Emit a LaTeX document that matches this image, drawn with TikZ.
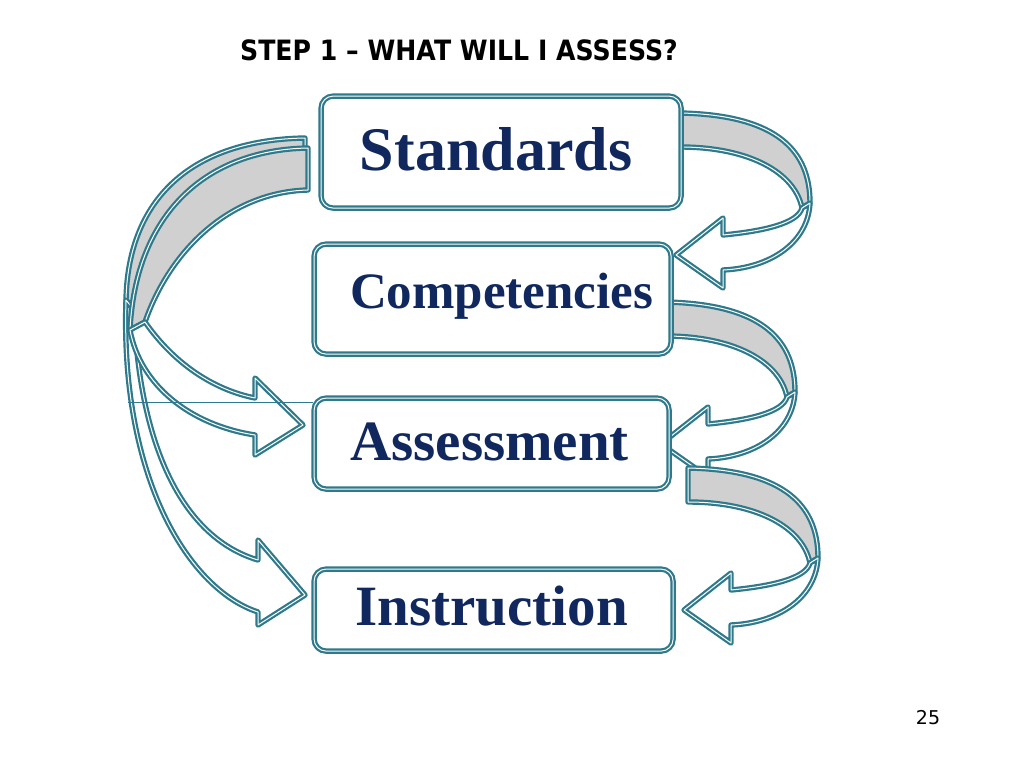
\documentclass[tikz,border=0pt]{standalone}
\usepackage{fontspec}
\setmainfont{Liberation Serif}
\newfontfamily\titlefont{DejaVu Sans}
\definecolor{tl}{HTML}{2E7A8C}
\definecolor{nv}{HTML}{10285E}
\definecolor{gb}{HTML}{D0D0D0}
\begin{document}
\begin{tikzpicture}[x=1pt,y=-1pt,
  rib/.style={draw=tl,line width=2.2pt,double=white,double distance=1pt,line join=round},
  box/.style={rib,rounded corners=12pt,fill=white,inner sep=0pt,anchor=north west},
  lbl/.style={font=\bfseries,text=nv}]
\useasboundingbox[fill=white] (0,0) rectangle (1024,768);
\node[font=\titlefont\bfseries,xscale=0.9] (title) at (459,50) {\fontsize{28}{32}\selectfont STEP 1 – WHAT WILL I ASSESS?};
\node[font=\titlefont] (pg) at (928,718) {\fontsize{19}{22}\selectfont 25};
% left arrow B (to Instruction)
\path[rib,fill=gb] (305,138) .. controls (190,140) and (128,200) .. (126,300) -- (134,310) .. controls (160,215) and (220,160) .. (305,150) -- cycle;
\path[rib,fill=white] (126,300) .. controls (120,480) and (190,590) .. (258,612) -- (258,625) -- (305,595) -- (258,540) -- (258,560) .. controls (190,540) and (140,460) .. (134,310) -- cycle;
% left arrow A (to Assessment)
\path[rib,fill=gb] (308,148) .. controls (200,150) and (135,220) .. (130,330) -- (145,322) .. controls (170,250) and (230,192) .. (308,190) -- cycle;
\path[rib,fill=white] (145,322) .. controls (175,365) and (215,390) .. (255,398) -- (255,378) -- (303,425) -- (255,455) -- (255,435) .. controls (190,425) and (140,385) .. (130,330) -- cycle;
\coordinate (hl) at (128,402);
% right arrows
\foreach \sx/\sy in {680/113, 665/302, 688/468}{
\begin{scope}[shift={(\sx,\sy)}]
\path[rib,fill=gb] (0,0) .. controls (100,2) and (130,40) .. (130,90) -- (122,95) .. controls (115,60) and (70,34) .. (0,34) -- cycle;
\path[rib,fill=white] (130,90) .. controls (128,130) and (90,155) .. (43,157) -- (43,175) -- (-4,142) -- (43,105) -- (43,122) .. controls (85,118) and (118,110) .. (122,95) -- cycle;
\end{scope}}
% boxes
\node[box,minimum width=360pt,minimum height=112pt] (s) at (320,95) {};
\node[lbl,font=\fontsize{62}{66}\selectfont\bfseries] at ([xshift=-5pt,yshift=3pt]s.center) {Standards};
\node[box,minimum width=357pt,minimum height=110pt] (c) at (313,243) {};
\node[lbl,font=\fontsize{51}{55}\selectfont\bfseries] at ([xshift=9pt,yshift=3pt]c.center) {Competencies};
\draw[tl,line width=0.8pt] (hl) -- (313,402);
\node[box,minimum width=355pt,minimum height=91pt] (a) at (313,397) {};
\node[lbl,font=\fontsize{57}{60}\selectfont\bfseries] at ([xshift=-2pt,yshift=2pt]a.center) {Assessment};
\node[box,minimum width=359pt,minimum height=82pt] (i) at (313,568) {};
\node[lbl,font=\fontsize{57}{60}\selectfont\bfseries] at ([xshift=-2pt,yshift=4pt]i.center) {Instruction};
\end{tikzpicture}
\end{document}
